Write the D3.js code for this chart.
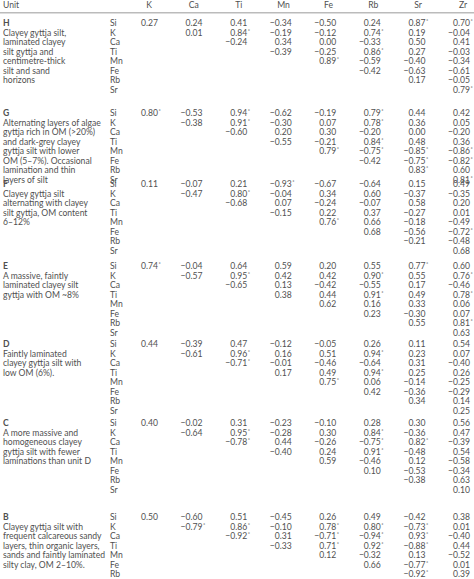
<!DOCTYPE html>
<html>
<head>
<meta charset="utf-8">
<script src="https://cdn.jsdelivr.net/npm/d3@7"></script>
<style>
  body { margin: 0; background: #fff; }
  text { font-family: Lato, "Open Sans", sans-serif; font-size: 8.6px; fill: #505050; }
</style>
</head>
<body>
<svg id="chart" width="474" height="579"></svg>
<script>
// column headers and row elements
const columns = ["K", "Ca", "Ti", "Mn", "Fe", "Rb", "Sr", "Zr"];
const rowElements = ["Si", "K", "Ca", "Ti", "Mn", "Fe", "Rb", "Sr"];

// unit letters and descriptions
const units = ["H", "G", "F", "E", "D", "C", "B"];
const descriptions = [
  ["Clayey gyttja silt,", "laminated clayey", "silt gyttja and", "centimetre-thick", "silt and sand", "horizons"],
  ["Alternating layers of algae", "gyttja rich in OM (>20%)", "and dark-grey clayey", "gyttja silt with lower", "OM (5–7%). Occasional", "lamination and thin", "layers of silt"],
  ["Clayey gyttja silt", "alternating with clayey", "silt gyttja, OM content", "6–12%"],
  ["A massive, faintly", "laminated clayey silt", "gyttja with OM ~8%"],
  ["Faintly laminated", "clayey gyttja silt with", "low OM (6%)."],
  ["A more massive and", "homogeneous clayey", "gyttja silt with fewer", "laminations than unit D"],
  ["Clayey gyttja silt with", "frequent calcareous sandy", "layers, thin organic layers,", "sands and faintly laminated", "silty clay, OM 2–10%."]
];

// correlation matrices (upper triangle, "*" = significant)
const unitH = [
  ["0.27", "0.24", "0.41", "−0.34", "−0.50", "0.24", "0.87*", "0.70*"],
  ["0.01", "0.84*", "−0.19", "−0.12", "0.74*", "0.19", "−0.04"],
  ["−0.24", "0.34", "0.00", "−0.33", "0.50", "0.41"],
  ["−0.39", "−0.25", "0.86*", "0.27", "−0.03"],
  ["0.89*", "−0.59", "−0.40", "−0.34"],
  ["−0.42", "−0.63", "−0.61"],
  ["0.17", "−0.05"],
  ["0.79*"]
];
const unitG = [
  ["0.80*", "−0.53", "0.94*", "−0.62", "−0.19", "0.79*", "0.44", "0.42"],
  ["−0.38", "0.91*", "−0.30", "0.07", "0.78*", "0.36", "0.05"],
  ["−0.60", "0.20", "0.30", "−0.20", "0.00", "−0.20"],
  ["−0.55", "−0.21", "0.84*", "0.48", "0.36"],
  ["0.79*", "−0.75*", "−0.85*", "−0.86*"],
  ["−0.42", "−0.75*", "−0.82*"],
  ["0.83*", "0.60"],
  ["0.81*"]
];
const unitF = [
  ["0.11", "−0.07", "0.21", "−0.93*", "−0.67", "−0.64", "0.15", "0.49"],
  ["−0.47", "0.80*", "−0.04", "0.34", "0.60", "−0.37", "−0.35"],
  ["−0.68", "0.07", "−0.24", "−0.07", "0.58", "0.20"],
  ["−0.15", "0.22", "0.37", "−0.27", "0.01"],
  ["0.76*", "0.66", "−0.18", "−0.49"],
  ["0.68", "−0.56", "−0.72*"],
  ["−0.21", "−0.48"],
  ["0.68"]
];
const unitE = [
  ["0.74*", "−0.04", "0.64", "0.59", "0.20", "0.55", "0.77*", "0.60"],
  ["−0.57", "0.95*", "0.42", "0.42", "0.90*", "0.55", "0.76*"],
  ["−0.65", "0.13", "−0.42", "−0.55", "0.17", "−0.46"],
  ["0.38", "0.44", "0.91*", "0.49", "0.78*"],
  ["0.62", "0.16", "0.33", "0.06"],
  ["0.23", "−0.30", "0.07"],
  ["0.55", "0.81*"],
  ["0.63"]
];
const unitD = [
  ["0.44", "−0.39", "0.47", "−0.12", "−0.05", "0.26", "0.11", "0.54"],
  ["−0.61", "0.96*", "0.16", "0.51", "0.94*", "0.23", "0.07"],
  ["−0.71*", "−0.01", "−0.46", "−0.64", "0.31", "−0.40"],
  ["0.17", "0.49", "0.94*", "0.25", "0.26"],
  ["0.75*", "0.06", "−0.14", "−0.25"],
  ["0.42", "−0.36", "−0.29"],
  ["0.34", "0.14"],
  ["0.25"]
];
const unitC = [
  ["0.40", "−0.02", "0.31", "−0.23", "−0.10", "0.28", "0.30", "0.56"],
  ["−0.64", "0.95*", "−0.28", "0.30", "0.84*", "−0.36", "0.47"],
  ["−0.78*", "0.44", "−0.26", "−0.75*", "0.82*", "−0.39"],
  ["−0.40", "0.24", "0.91*", "−0.48", "0.54"],
  ["0.59", "−0.46", "0.12", "−0.58"],
  ["0.10", "−0.53", "−0.34"],
  ["−0.38", "0.63"],
  ["0.10"]
];
const unitB = [
  ["0.50", "−0.60", "0.51", "−0.45", "0.26", "0.49", "−0.42", "0.38"],
  ["−0.79*", "0.86*", "−0.10", "0.78*", "0.80*", "−0.73*", "0.01"],
  ["−0.92*", "0.31", "−0.71*", "−0.94*", "0.93*", "−0.40"],
  ["−0.33", "0.71*", "0.92*", "−0.88*", "0.44"],
  ["0.12", "−0.32", "0.13", "−0.52"],
  ["0.66", "−0.77*", "0.01"],
  ["−0.92*", "0.39"],
  ["−0.39"]
];
const matrices = [unitH, unitG, unitF, unitE, unitD, unitC, unitB];

// layout
const unitTop = [26, 116, 187, 269, 347, 426, 520];
const rowStep = 9.5;
const svg = d3.select("#chart");

const x = d3.scalePoint().domain(columns).range([149, 463]);
const rightEdge = d3.scaleLinear().domain([0, 7]).range([158, 470]);

// header
svg.append("text").attr("x", 3).attr("y", 8).text("Unit");
svg.selectAll(".head").data(columns).enter().append("text")
    .attr("x", d => x(d)).attr("y", 8).attr("text-anchor", "middle").text(d => d);
svg.append("rect").attr("x", 0).attr("y", 12).attr("width", 474).attr("height", 1.5).attr("fill", "#bbb");

units.forEach((u, i) => {
  const g = svg.append("g").attr("transform", `translate(0,${unitTop[i]})`);
  g.append("text").attr("x", 3).attr("y", 0).style("font-weight", "bold").text(u);
  g.selectAll(".desc").data(descriptions[i]).enter().append("text")
      .attr("x", 3).attr("y", (d, k) => (k + 1) * rowStep).text(d => d);
  g.selectAll(".el").data(rowElements).enter().append("text")
      .attr("x", 110).attr("y", (d, k) => k * rowStep).text(d => d);

  matrices[i].forEach((row, r) => {
    const offset = 8 - row.length;
    row.forEach((v, c) => {
      const star = v.endsWith("*");
      g.append("text")
          .attr("x", rightEdge(c + offset)).attr("y", r * rowStep)
          .attr("text-anchor", "end").text(star ? v.slice(0, -1) : v);
      if (star) {
        g.append("text").attr("x", rightEdge(c + offset) + 0.5).attr("y", r * rowStep - 3)
            .style("font-size", "5.5px").text("*");
      }
    });
  });
});
</script>
</body>
</html>
